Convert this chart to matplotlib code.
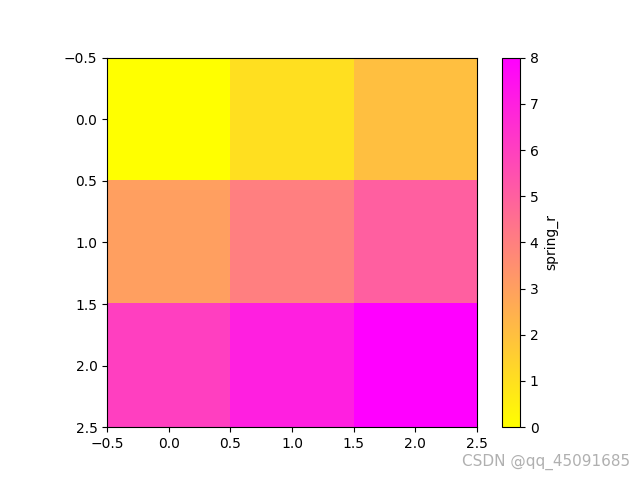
import matplotlib
matplotlib.use("Agg")
from matplotlib import pyplot as plt
import numpy as np

# cell values, row by row
row0 = [0, 1, 2]
row1 = [3, 4, 5]
row2 = [6, 7, 8]
data = np.array([row0, row1, row2])

fig, ax = plt.subplots(figsize=(6.4, 4.8), dpi=100)
im = ax.imshow(data, cmap='spring_r')
cbar = fig.colorbar(im, ax=ax)
cbar.set_label('spring_r')

# watermark seen in the reference
fig.text(0.985, 0.02, 'CSDN @qq_45091685', ha='right', va='bottom',
         fontsize=11, color='#b0b0b0')

plt.savefig('out.png')
plt.close()
